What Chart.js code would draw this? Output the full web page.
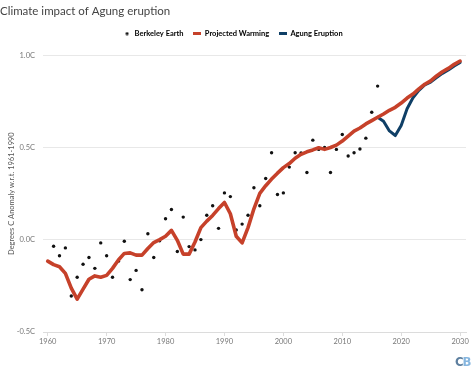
<!DOCTYPE html>
<html>
<head>
<meta charset="utf-8">
<script src="https://cdn.jsdelivr.net/npm/chart.js@4.4.1/dist/chart.umd.min.js"></script>
<style>
  body { margin: 0; background: #fff; }
  canvas { display: block; }
</style>
</head>
<body>
<canvas id="agungChart" width="474" height="370"></canvas>
<script>
// Berkeley Earth annual anomalies (dots)
const berkeleyYears = [1961, 1962, 1963, 1964, 1965, 1966, 1967, 1968, 1969, 1970,
  1971, 1972, 1973, 1974, 1975, 1976, 1977, 1978, 1979, 1980,
  1981, 1982, 1983, 1984, 1985, 1986, 1987, 1988, 1989, 1990,
  1991, 1992, 1993, 1994, 1995, 1996, 1997, 1998, 1999, 2000,
  2001, 2002, 2003, 2004, 2005, 2006, 2007, 2008, 2009, 2010,
  2011, 2012, 2013, 2014, 2015, 2016];
const berkeleyValues = [-0.035, -0.087, -0.044, -0.305, -0.203, -0.133, -0.096, -0.155, -0.017, -0.087,
  -0.203, -0.116, -0.008, -0.216, -0.166, -0.271, 0.033, -0.096, -0.005, 0.114,
  0.164, -0.064, 0.123, -0.037, -0.055, 0.001, 0.133, 0.184, 0.062, 0.254,
  0.234, 0.053, 0.085, 0.133, 0.282, 0.184, 0.332, 0.472, 0.245, 0.254,
  0.394, 0.472, 0.47, 0.365, 0.54, 0.49, 0.50, 0.365, 0.49, 0.571,
  0.454, 0.472, 0.492, 0.551, 0.691, 0.833];

// Projected warming (red line), 1960-2030
const projectedYears = [];
for (let y = 1960; y <= 2030; y++) projectedYears.push(y);
const projectedValues = [-0.116, -0.135, -0.146, -0.182, -0.262, -0.322, -0.268, -0.214, -0.196, -0.203,
  -0.193, -0.155, -0.110, -0.074, -0.071, -0.083, -0.083, -0.047, -0.015, 0.001,
  0.019, 0.051, -0.003, -0.078, -0.078, -0.012, 0.066, 0.101, 0.132, 0.169,
  0.202, 0.141, 0.019, -0.017, 0.066, 0.168, 0.252, 0.293, 0.329, 0.361,
  0.391, 0.413, 0.442, 0.463, 0.477, 0.487, 0.499, 0.490, 0.500, 0.513,
  0.535, 0.562, 0.589, 0.606, 0.628, 0.646, 0.664, 0.682, 0.702, 0.718,
  0.741, 0.768, 0.790, 0.818, 0.843, 0.861, 0.888, 0.911, 0.929, 0.951,
  0.969];

// Agung eruption scenario (blue line), 2016-2030
const agungYears = [2016, 2017, 2018, 2019, 2020, 2021, 2022, 2023, 2024, 2025, 2026, 2027, 2028, 2029, 2030];
const agungValues = [0.664, 0.642, 0.59, 0.565, 0.62, 0.71, 0.77, 0.81, 0.84, 0.855, 0.879, 0.902, 0.92, 0.942, 0.961];

const xTicks = [1960, 1970, 1980, 1990, 2000, 2010, 2020, 2030];
const yTicks = [-0.5, 0, 0.5, 1.0];

const RED = "#c6412a";
const BLUE = "#0f3f66";

const toPoints = (xs, ys) => xs.map((x, i) => ({ x: x, y: ys[i] }));

// little images for the legend swatches
const makeSwatch = (w, h, draw) => {
    const c = document.createElement("canvas");
    c.width = w; c.height = h;
    draw(c.getContext("2d"));
    return c;
};
const dotSwatch = makeSwatch(4, 4, (g) => {
    g.fillStyle = "#111";
    g.beginPath(); g.arc(2, 2, 1.6, 0, Math.PI * 2); g.fill();
});
const redSwatch = makeSwatch(8, 3, (g) => { g.fillStyle = RED; g.fillRect(0, 0, 8, 3); });
const blueSwatch = makeSwatch(8, 3, (g) => { g.fillStyle = BLUE; g.fillRect(0, 0, 8, 3); });
const swatches = [dotSwatch, redSwatch, blueSwatch];

const logoPlugin = {
    id: "cbLogo",
    afterDraw(chart) {
        const ctx = chart.ctx;
        ctx.save();
        ctx.font = 'bold 13px "DejaVu Sans Condensed", "Liberation Sans Narrow", sans-serif';
        ctx.textBaseline = "alphabetic";
        ctx.fillStyle = "#5d7f9f";
        ctx.fillText("C", 455, 366);
        ctx.fillStyle = "#86b6df";
        ctx.fillText("B", 462.5, 366);
        ctx.restore();
    }
};

const ctx = document.getElementById("agungChart").getContext("2d");

const chart = new Chart(ctx, {
    type: "line",
    data: {
        datasets: [{
            label: "Berkeley Earth",
            data: toPoints(berkeleyYears, berkeleyValues),
            showLine: false,
            pointRadius: 1.7,
            pointBackgroundColor: "#111",
            pointBorderWidth: 0,
            order: 3
        }, {
            label: "Projected Warming",
            data: toPoints(projectedYears, projectedValues),
            borderColor: RED,
            borderWidth: 3.6,
            pointRadius: 0,
            tension: 0,
            borderJoinStyle: "round",
            borderCapStyle: "round",
            order: 1
        }, {
            label: "Agung Eruption",
            data: toPoints(agungYears, agungValues),
            borderColor: BLUE,
            borderWidth: 3,
            pointRadius: 0,
            tension: 0,
            borderJoinStyle: "round",
            borderCapStyle: "round",
            order: 2
        }]
    },
    options: {
        responsive: false,
        animation: false,
        layout: { padding: { left: 0, right: 8, top: 0, bottom: 0 } },
        plugins: {
            title: {
                display: true,
                text: "Climate impact of Agung eruption",
                align: "start",
                color: "#444",
                font: { family: "Lato", size: 11.5, weight: "normal" },
                padding: { top: 4, bottom: 2 }
            },
            legend: {
                display: true,
                labels: {
                    usePointStyle: true,
                    boxWidth: 8,
                    boxHeight: 8,
                    padding: 10,
                    color: "#333",
                    font: { family: "Lato", size: 7.5, weight: "bold" },
                    generateLabels: (chart) => chart.data.datasets.map((ds, i) => ({
                        text: ds.label,
                        pointStyle: swatches[i],
                        fillStyle: "#000",
                        strokeStyle: "#000",
                        lineWidth: 0,
                        hidden: false,
                        datasetIndex: i
                    }))
                }
            },
            tooltip: { enabled: false }
        },
        scales: {
            x: {
                type: "linear",
                min: 1959.2,
                max: 2031,
                afterBuildTicks: (scale) => { scale.ticks = xTicks.map((v) => ({ value: v })); },
                afterFit: (scale) => { scale.height = 38; },
                grid: { drawOnChartArea: false, drawTicks: true, tickLength: 4, color: "#dcdcdc" },
                border: { display: true, color: "#dcdcdc" },
                ticks: {
                    color: "#777",
                    padding: 1,
                    maxRotation: 0,
                    font: { family: "Lato", size: 7.5 },
                    callback: (v) => String(v)
                }
            },
            y: {
                min: -0.5,
                max: 1.0,
                afterBuildTicks: (scale) => { scale.ticks = yTicks.map((v) => ({ value: v })); },
                afterFit: (scale) => { scale.width = 43; },
                grid: { drawTicks: false, color: "#e8e8e8" },
                border: { display: false },
                ticks: {
                    color: "#777",
                    padding: 8,
                    font: { family: "Lato", size: 7.5 },
                    callback: (v) => v.toFixed(1) + "C"
                },
                title: {
                    display: true,
                    text: "Degrees C Anomaly w.r.t. 1961-1990",
                    color: "#555",
                    font: { family: "Lato", size: 7.5 },
                    padding: { top: 7, bottom: 0 }
                }
            }
        }
    },
    plugins: [logoPlugin]
});

// leave some room between the legend and the plot
const legendFit = chart.legend.fit;
chart.legend.fit = function () {
    legendFit.call(this);
    this.height += 8;
};
chart.update();
</script>
</body>
</html>
